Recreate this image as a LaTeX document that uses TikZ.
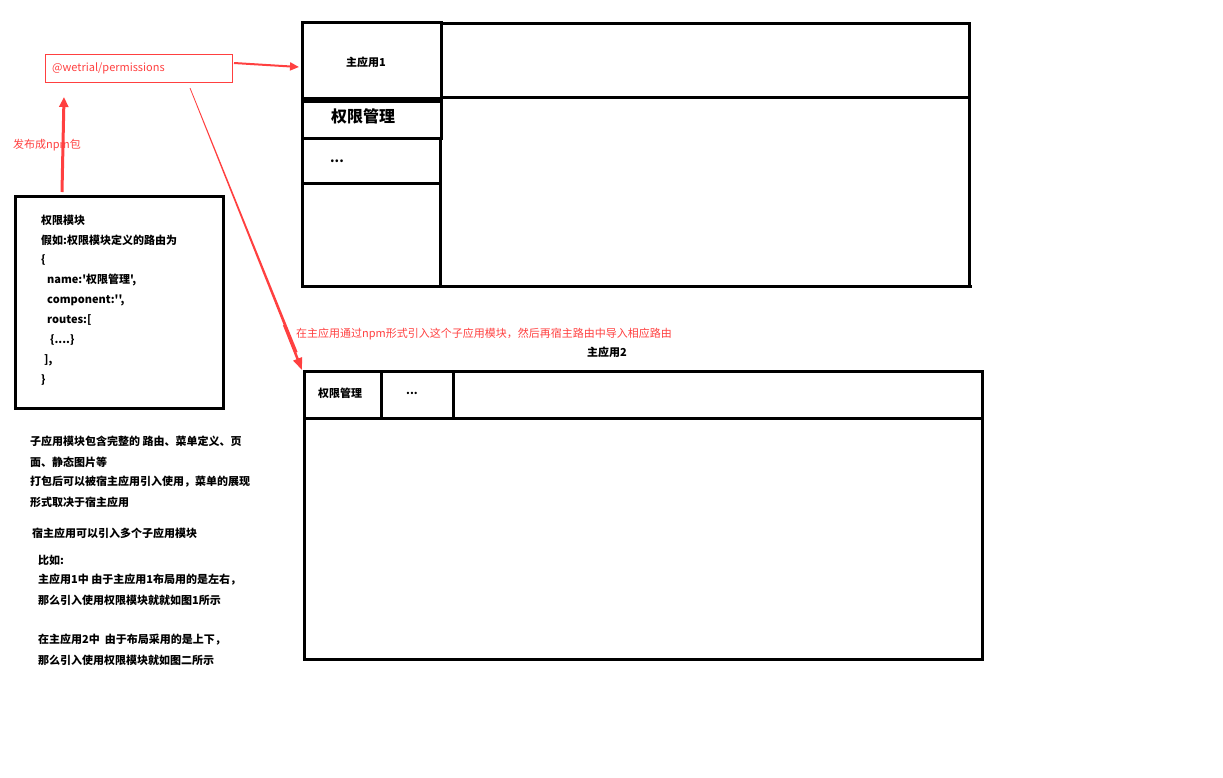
\documentclass[tikz,border=0pt]{standalone}
\usepackage{fontspec}
\setmainfont{Noto Sans CJK SC}[Ligatures=TeXOff]
\usetikzlibrary{arrows.meta}
\definecolor{redc}{RGB}{255,64,64}
\tikzset{
  box/.style={draw=black,line width=3pt},
  txt/.style={anchor=west,inner sep=0pt,font=\fontsize{11}{12}\selectfont\bfseries},
  rtxt/.style={anchor=west,inner sep=0pt,text=redc,font=\fontsize{11}{12}\selectfont},
  redarrow/.style={draw=redc,line width=2pt,-{Triangle[length=9pt,width=8pt]}},
}
\begin{document}
\begin{tikzpicture}[x=1pt,y=-1pt]
\useasboundingbox (0,0) rectangle (1223,777);
% red package box
\node[draw=redc,line width=1pt,minimum width=187pt,minimum height=28pt,inner sep=0pt] (pkg) at (138.5,68) {};
\node[rtxt] (pkgt) at (52,68) {@wetrial/permissions};
% left module box
\draw[box] (15,196) rectangle (223,408);
\coordinate (modtop) at (62,192);
\node[txt] (l1) at (41,220) {权限模块};
\node[txt] (l2) at (41,240) {假如:权限模块定义的路由为};
\node[txt] (l3) at (41,260) {\{};
\node[txt] (l4) at (47,280) {name:'权限管理',};
\node[txt] (l5) at (47,300) {component:'',};
\node[txt] (l6) at (47,320) {routes:[};
\node[txt] (l7) at (50,340) {\{....\}};
\node[txt] (l8) at (44,360) {],};
\node[txt] (l9) at (41,380) {\}};
% arrow up
\coordinate (pkgbot) at (64,97);
\draw[draw=redc,line width=3pt,-{Triangle[length=10pt,width=9pt]}] (modtop) -- (pkgbot);
\node[rtxt] (pub) at (13,145) {发布成npm包};
% main app 1
\draw[box] (302,22) rectangle (441,98);
\draw[box] (441,23) rectangle (969,97);
\draw[box] (302,101) rectangle (441,138);
\draw[box] (302,138) rectangle (440,183);
\draw[box] (302,183) rectangle (440,286);
\draw[box] (440,97) -- (969,97) -- (969,286) -- (440,286);
\draw[box] (440,286) -- (972,286);
\node[inner sep=0pt,font=\fontsize{11}{12}\selectfont\bfseries] (m1) at (366,62) {主应用1};
\node[inner sep=0pt,font=\fontsize{16}{17}\selectfont\bfseries] (qx1) at (363,116) {权限管理};
\node[inner sep=0pt,font=\fontsize{13}{14}\selectfont\bfseries] (dots1) at (337,161) {...};
\coordinate (m1in) at (299,67);
\coordinate (pkgr) at (234,63);
\draw[redarrow] (pkgr) -- (m1in);
% main app 2
\draw[box] (304,371) rectangle (982,659);
\draw[box] (304,418) -- (982,418);
\draw[box] (381,371) -- (381,418);
\draw[box] (453,371) -- (453,418);
\node[inner sep=0pt,font=\fontsize{11}{12}\selectfont\bfseries] (qx2) at (340,393) {权限管理};
\node[inner sep=0pt,font=\fontsize{11}{12}\selectfont\bfseries] (dots2) at (412,393) {...};
\node[inner sep=0pt,font=\fontsize{11}{12}\selectfont\bfseries] (m2) at (607,352) {主应用2};
\node[rtxt] (imp) at (296,334) {在主应用通过npm形式引入这个子应用模块，然后再宿主路由中导入相应路由};
\coordinate (lstart) at (190,88);
\coordinate (m2in) at (302,370);
\fill[redc] (189.6,88) -- (190.4,88) -- (297.6,352) -- (294.8,353) -- cycle;
\draw[draw=redc,line width=2.5pt,-{Triangle[length=12pt,width=9pt]},shorten <=255pt] (lstart) -- (m2in);
% bottom-left notes
\node[txt] (b1) at (30,441) {子应用模块包含完整的 路由、菜单定义、页};
\node[txt] (b2) at (30,462) {面、静态图片等};
\node[txt] (b3) at (30,482) {打包后可以被宿主应用引入使用，菜单的展现};
\node[txt] (b4) at (30,502) {形式取决于宿主应用};
\node[txt] (b5) at (32,533) {宿主应用可以引入多个子应用模块};
\node[txt] (b6) at (38,560) {比如:};
\node[txt] (b7) at (38,580) {主应用1中 由于主应用1布局用的是左右，};
\node[txt] (b8) at (38,600) {那么引入使用权限模块就就如图1所示};
\node[txt] (b9) at (38,640) {在主应用2中 \ 由于布局采用的是上下，};
\node[txt] (b10) at (38,660) {那么引入使用权限模块就如图二所示};
\end{tikzpicture}
\end{document}
